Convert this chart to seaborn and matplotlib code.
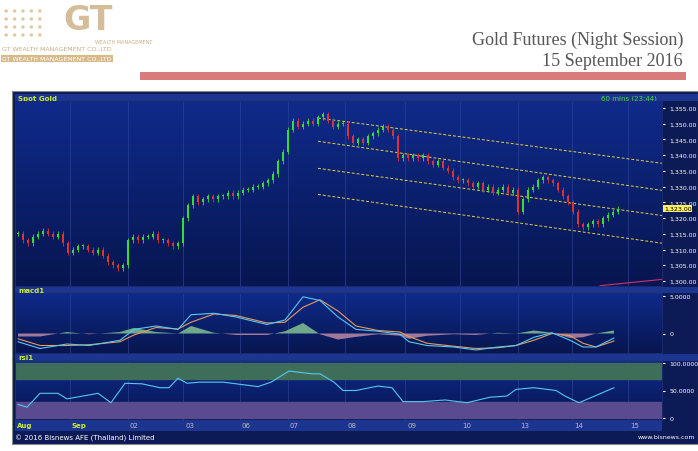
import numpy as np
import pandas as pd
import matplotlib.pyplot as plt
import seaborn as sns

sns.set_style("white")
plt.rcParams["font.family"] = ["DejaVu Sans"]

# ---- data ----
price_x0, price_step = 18, 5
closes = [1315, 1313, 1312, 1314, 1315, 1316, 1315, 1314, 1315, 1312,
          1309, 1310, 1311, 1311, 1310, 1309, 1310, 1308, 1306, 1305,
          1304, 1305, 1313, 1314, 1313, 1314, 1314, 1315, 1313, 1313,
          1312, 1311, 1312, 1320, 1324, 1327, 1325, 1326, 1327, 1326,
          1327, 1327, 1328, 1327, 1328, 1329, 1329, 1330, 1330, 1331,
          1332, 1334, 1338, 1341, 1348, 1351, 1349, 1350, 1351, 1350,
          1352, 1353, 1351, 1349, 1350, 1350, 1346, 1344, 1345, 1344,
          1346, 1347, 1348, 1349, 1348, 1346, 1339, 1340, 1339, 1340,
          1339, 1340, 1338, 1337, 1338, 1336, 1335, 1333, 1332, 1332,
          1331, 1330, 1331, 1329, 1330, 1328, 1329, 1330, 1328, 1329,
          1322, 1326, 1329, 1330, 1332, 1333, 1332, 1331, 1329, 1327,
          1325, 1322, 1318, 1317, 1318, 1319, 1318, 1320, 1321, 1322, 1323]

channel_x = [318, 662]
channels = [[1351.8, 1337.4], [1344.4, 1328.8], [1335.8, 1320.8], [1327.5, 1312.0]]
red_line_x = [600, 662]
red_line_y = [1298.5, 1300.5]

ind_x = [18, 40, 67, 89, 120, 134, 156, 178, 191, 214, 236, 267, 285, 303, 320, 338,
         356, 378, 400, 409, 427, 454, 476, 498, 516, 534, 552, 570, 583, 596, 614]
macd = [-1.1, -2.0, -1.4, -1.6, -0.9, 0.55, 1.0, 0.55, 2.5, 2.7, 2.2, 1.2, 1.8, 4.9, 4.4, 2.2,
        0.55, 0.3, -0.1, -1.1, -1.6, -1.8, -2.2, -1.8, -1.6, -0.5, 0.1, -0.9, -1.8, -1.8, -0.6]
signal = [-0.7, -1.6, -1.6, -1.5, -1.1, -0.2, 0.8, 0.6, 1.5, 2.6, 2.4, 1.4, 1.5, 3.5, 4.5, 3.0,
          1.0, 0.4, 0.2, -0.4, -1.3, -1.7, -2.0, -1.9, -1.6, -0.9, 0.0, -0.3, -1.3, -1.8, -1.0]
hist = [-0.4, -0.4, 0.2, -0.1, 0.2, 0.75, 0.2, 0.0, 1.0, 0.1, -0.2, -0.2, 0.3, 1.4, -0.1, -0.8,
        -0.45, -0.1, -0.3, -0.7, -0.3, -0.1, -0.2, 0.1, 0.0, 0.4, 0.1, -0.6, -0.5, 0.0, 0.4]

rsi_x = [18, 27, 40, 58, 67, 89, 98, 111, 125, 142, 160, 169, 178, 187, 200, 223, 245, 258,
         271, 289, 312, 320, 334, 343, 356, 378, 392, 403, 423, 445, 467, 490, 507, 516, 534,
         556, 565, 579, 592, 614]
rsi = [25, 20, 45, 45, 35, 42, 45, 28, 63, 62, 55, 55, 72, 63, 65, 65, 60, 57, 65, 85, 80,
       80, 65, 50, 50, 58, 55, 30, 30, 33, 28, 38, 40, 52, 55, 50, 40, 28, 38, 55]

day_pos = [15, 70, 128, 183, 240, 288, 345, 405, 460, 518, 572, 628]
day_labels = ["Aug", "Sep", "02", "03", "06", "07", "08", "09", "10", "13", "14", "15"]
price_ticks = [1300, 1305, 1310, 1315, 1320, 1325, 1330, 1335, 1340, 1345, 1350, 1355]

W, H = 698, 452
fig = plt.figure(figsize=(W / 100, H / 100), dpi=100)
fig.patch.set_facecolor("white")


def px_axes(x0, y0, x1, y1):
    return fig.add_axes([x0 / W, 1 - y1 / H, (x1 - x0) / W, (y1 - y0) / H])


# ---- header ----
fig.text(88 / W, 1 - 21 / H, "GT", fontsize=24, fontweight="bold", color="#d4bd98", ha="center", va="center")
logo = px_axes(2, 8, 44, 40)
logo.set_xlim(0, 5)
logo.set_ylim(0, 4)
logo.axis("off")
for i in range(5):
    for j in range(4):
        logo.scatter(i + 0.5, j + 0.5, s=6, color="#e2c79c", edgecolor="none")
fig.text(95 / W, 1 - 42 / H, "WEALTH MANAGEMENT", fontsize=3.5, color="#c9ad86", va="center")
fig.text(2 / W, 1 - 51 / H, "GT WEALTH MANAGEMENT CO.,LTD", fontsize=4.5, color="#c9ad86")
fig.text(2 / W, 1 - 61 / H, "GT WEALTH MANAGEMENT CO.,LTD", fontsize=4.5, color="white",
         bbox=dict(facecolor="#d8b98a", edgecolor="none", pad=1))
fig.text(683 / W, 1 - 40 / H, "Gold Futures (Night Session)", fontsize=13, color="#555555",
         family="Liberation Serif", ha="right", va="center")
fig.text(683 / W, 1 - 62 / H, "15 September 2016", fontsize=13, color="#555555",
         family="Liberation Serif", ha="right", va="center")
bar = px_axes(140, 73, 686, 81)
bar.set_facecolor("#d97b7b")
bar.set_xticks([])
bar.set_yticks([])
for s in bar.spines.values():
    s.set_visible(False)

# ---- chart background ----
bg = px_axes(12, 92, 698, 445)
bg.set_facecolor("#0c1a55")
bg.set_xticks([])
bg.set_yticks([])
for s in bg.spines.values():
    s.set_color("#888888")

cmap = plt.cm.colors.LinearSegmentedColormap.from_list("g", ["#0f2a8a", "#071650"])


def style_panel(ax, ylim):
    grad = np.linspace(0, 1, 50).reshape(-1, 1)
    ax.imshow(grad, extent=[15, 662, ylim[0], ylim[1]], aspect="auto", cmap=cmap,
              origin="upper", zorder=0)
    ax.set_xlim(15, 662)
    ax.set_ylim(*ylim)
    for p in day_pos:
        ax.axvline(p, color="#2a3f9a", lw=0.5, zorder=1)
    ax.tick_params(axis="y", right=True, left=False, labelright=True, labelleft=False,
                   colors="white", labelsize=4.5, length=2)
    ax.set_xticks([])
    for s in ax.spines.values():
        s.set_color("#1a2a70")


def strip(y0, y1, label, right=None):
    a = px_axes(15, y0, 698, y1)
    a.set_facecolor("#1c3590")
    a.set_xticks([])
    a.set_yticks([])
    for s in a.spines.values():
        s.set_visible(False)
    a.text(0.005, 0.5, label, color="#ccee33", fontsize=5, va="center", fontweight="bold", transform=a.transAxes)
    if right:
        a.text(0.94, 0.5, right, color="#44dd44", fontsize=5, va="center", ha="right", transform=a.transAxes)


# ---- price panel ----
strip(95, 102, "Spot Gold", "60 mins (23:44)")
ax = px_axes(15, 102, 662, 287)
style_panel(ax, (1298.4, 1357.2))
ax.set_yticks(price_ticks)
ax.set_yticklabels([f"{v:,.2f}" for v in price_ticks])
px = [price_x0 + price_step * i for i in range(len(closes))]
opens = [closes[0]] + closes[:-1]
candles = pd.DataFrame({"x": px, "open": opens, "close": closes})
for _, r in candles.iterrows():
    col = "#33dd33" if r["close"] >= r["open"] else "#dd3333"
    lo, hi = sorted([r["open"], r["close"]])
    ax.vlines(r["x"], lo - 0.8, hi + 0.8, color=col, lw=0.6, zorder=3)
    ax.bar(r["x"], max(hi - lo, 0.3), bottom=lo, width=2.6, color=col, linewidth=0, zorder=3)
for ch in channels:
    sns.lineplot(x=channel_x, y=ch, ax=ax, color="#e8d23a", lw=0.7, linestyle=(0, (3, 2)), zorder=2)
sns.lineplot(x=red_line_x, y=red_line_y, ax=ax, color="#d03070", lw=0.8, zorder=2)
ax.text(664, closes[-1], f"{closes[-1]:,.2f}", fontsize=4.5, color="black", va="center",
        bbox=dict(facecolor="#ffee66", edgecolor="none", pad=0.5), clip_on=False)

# ---- macd panel ----
strip(288, 294, "macd1")
ax2 = px_axes(15, 294, 662, 354)
style_panel(ax2, (-2.6, 5.4))
ax2.set_yticks([0, 5])
ax2.set_yticklabels(["0", "5.0000"])
hist_arr = np.array(hist)
ax2.fill_between(ind_x, 0, hist_arr, where=hist_arr >= 0, color="#6fa88a", interpolate=True, zorder=2, lw=0)
ax2.fill_between(ind_x, 0, hist_arr, where=hist_arr < 0, color="#a0789a", interpolate=True, zorder=2, lw=0)
sns.lineplot(x=ind_x, y=signal, ax=ax2, color="#e89a5a", lw=0.8, zorder=3)
sns.lineplot(x=ind_x, y=macd, ax=ax2, color="#55c8ee", lw=0.8, zorder=4)

# ---- rsi panel ----
strip(355, 362, "rsi1")
ax3 = px_axes(15, 362, 662, 421)
style_panel(ax3, (-3, 103))
ax3.axhspan(70, 100, color="#3e6e5a", zorder=1)
ax3.axhspan(0, 30, color="#5a4a8e", zorder=1)
ax3.set_yticks([0, 50, 100])
ax3.set_yticklabels(["0", "50.0000", "100.0000"])
sns.lineplot(x=rsi_x, y=rsi, ax=ax3, color="#55c8ee", lw=0.8, zorder=3)

# ---- date axis ----
xa = px_axes(15, 421, 662, 432)
xa.set_facecolor("#1c3590")
xa.set_xlim(15, 662)
xa.set_yticks([])
xa.set_xticks([])
for s in xa.spines.values():
    s.set_visible(False)
for p, lab in zip(day_pos, day_labels):
    xa.text(p + 2, 0.5, lab, color="#ccee33" if lab in ("Aug", "Sep") else "#bbbbbb",
            fontsize=5, va="center", fontweight="bold" if lab in ("Aug", "Sep") else "normal",
            transform=xa.get_xaxis_transform())

fig.text(15 / W, 1 - 438 / H, "© 2016 Bisnews AFE (Thailand) Limited", fontsize=5, color="white", va="center")
fig.text(695 / W, 1 - 438 / H, "www.bisnews.com", fontsize=4.5, color="white", va="center", ha="right")

fig.savefig("out.png", dpi=100)
